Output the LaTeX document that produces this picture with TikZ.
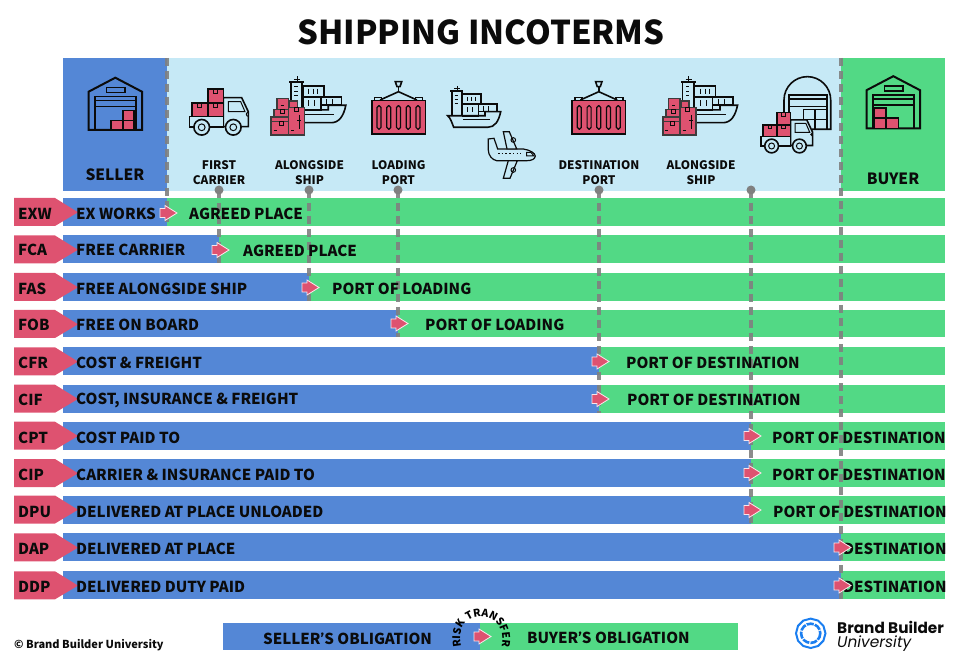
\documentclass[tikz,border=0pt]{standalone}
\usepackage{fontspec}
\setmainfont{Noto Sans CJK SC}
\newfontfamily\logofont{Poppins}
\newfontfamily\aposfont{Fira Sans}
\usetikzlibrary{decorations.text}
\definecolor{sellerBlue}{HTML}{5487D6}
\definecolor{buyerGreen}{HTML}{52D985}
\definecolor{skyBlue}{HTML}{C6E9F6}
\definecolor{crateRed}{HTML}{DE5270}
\definecolor{inkBlack}{HTML}{0B0B0B}
\definecolor{logoBlue}{HTML}{1A7EF0}
\tikzset{
  sellerbar/.style={fill=sellerBlue},
  buyerbar/.style={fill=buyerGreen},
  icon/.style={draw=inkBlack, line width=1.6pt, line join=miter},
  thinicon/.style={draw=inkBlack, line width=1pt},
  codetext/.style={anchor=west, yshift=-0.7pt, font=\fontsize{15.1}{16}\selectfont\bfseries, text=inkBlack, inner sep=0pt},
  rowtext/.style={anchor=west, yshift=-0.7pt, font=\fontsize{15.1}{16}\selectfont\bfseries, text=inkBlack, inner sep=0pt},
  stoptext/.style={align=center, yshift=-0.8pt, font=\fontsize{11.8}{15}\selectfont\bfseries, text=inkBlack, inner sep=0pt},
  partytext/.style={yshift=-0.7pt, font=\fontsize{15.5}{16}\selectfont\bfseries, text=inkBlack, inner sep=0pt},
  riskline/.style={draw=black!50, opacity=0.9, line width=3.2pt, dash pattern=on 8pt off 5pt},
  riskdot/.style={circle, fill=black!50, inner sep=0pt, minimum size=9pt},
  riskarrow/.pic={
    \draw[fill=crateRed, draw=white!85!crateRed, line width=0.8pt] (-7,-4.5) -- (-2,-4.5) -- (-2,-7.5) -- (10,0) -- (-2,7.5) -- (-2,4.5) -- (-7,4.5) -- cycle;
  },
  codetag/.pic={
    \fill[crateRed] (0,0) -- (41,0) -- (64,14.3) -- (41,28) -- (0,28) -- cycle;
  },
  warehouse/.pic={
    \draw[icon, line width=2pt] (-26.7,0) -- (-26.7,-38.3) -- (0,-52.3) -- (26.7,-38.3) -- (26.7,0) -- cycle;
    \draw[icon] (-20.5,0) -- (-20.5,-33.3) -- (20.5,-33.3) -- (20.5,0);
    \draw[icon] (-20.5,-29.3) -- (20.5,-29.3);
    \draw[icon] (-20.5,-23.3) -- (20.5,-23.3);
    \draw[icon] (-9,-42.3) rectangle (9.7,-37.3);
  },
  truck/.pic={
    \draw[icon, fill=skyBlue] (34,-29.6) -- (52.4,-29.6) -- (59,-15.6) -- (59,-0.6) -- (34,-0.6) -- cycle;
    \draw[thinicon] (39,-25.6) -- (51.4,-25.6) -- (55.7,-15.6) -- (39,-15.6) -- cycle;
    \draw[thinicon] (59,-11) arc (90:270:2);
    \draw[icon, fill=skyBlue] (0,-10.6) rectangle (34,0);
    \draw[icon, fill=crateRed] (2.4,-24) rectangle (18.4,-10.6);
    \draw[icon, fill=crateRed] (18.4,-24) rectangle (34,-10.6);
    \draw[icon, fill=crateRed] (18.4,-38) rectangle (34,-24);
    \draw[thinicon] (8.5,-24) rectangle (12.5,-19.5);
    \draw[thinicon] (24,-24) rectangle (28,-19.5);
    \draw[thinicon] (24,-38) rectangle (28,-33.5);
    \draw[icon, fill=skyBlue] (12.4,0) circle (7.8);
    \draw[thinicon] (12.4,0) circle (3.4);
    \draw[icon, fill=skyBlue] (44,0) circle (7.8);
    \draw[thinicon] (44,0) circle (3.4);
  },
  freighter/.pic={
    \draw[icon] (0,-11.5) -- (37.3,-11.5) -- (37.3,-15.6) -- (53,-15.6) .. controls (51,-6) and (47,0) .. (40,0) -- (6,0) .. controls (4,-5) and (3,-9) .. (0,-11.5) -- cycle;
    \draw[thinicon] (15.6,-7.3) -- (42.3,-7.3);
    \draw[icon] (4,-11.5) -- (4,-36.3) -- (14,-36.3) -- (14,-11.5);
    \draw[icon] (2.5,-36.3) -- (15.5,-36.3);
    \draw[thinicon] (6.6,-39) -- (12.3,-39);
    \draw[thinicon] (9.4,-41.3) -- (9.4,-36.3);
    \draw[thinicon] (7,-32) -- (10,-32);
    \draw[thinicon] (7,-28) -- (10,-28);
    \draw[thinicon] (7,-24) -- (10,-24);
    \draw[icon] (14.6,-33) rectangle (33.3,-23);
    \draw[icon] (14.6,-23) rectangle (30.6,-11.5);
    \draw[icon] (30.6,-23) rectangle (49,-15.6);
    \draw[thinicon] (20,-30.5) -- (20,-26);
    \draw[thinicon] (24,-30.5) -- (24,-26);
    \draw[thinicon] (28,-30.5) -- (28,-26);
    \draw[thinicon] (20,-20) -- (20,-15);
    \draw[thinicon] (25,-20) -- (25,-15);
    \draw[thinicon] (36,-21) -- (36,-16.5);
    \draw[thinicon] (41,-21) -- (41,-16.5);
  },
  cratestack/.pic={
    \draw[icon, draw=inkBlack!80, fill=crateRed] (0,-18) rectangle (17.3,-4.5);
    \draw[icon, draw=inkBlack!80, fill=crateRed] (3,-25.5) rectangle (17.3,-18);
    \draw[icon, draw=inkBlack!80, fill=crateRed] (5.7,-36.5) rectangle (17.3,-25.5);
    \draw[icon, draw=inkBlack!80, fill=crateRed] (18,-33.7) rectangle (26.3,-27.5);
    \draw[icon, draw=inkBlack!80, fill=crateRed] (17.3,-27.5) rectangle (33.3,0);
    \draw[icon, draw=inkBlack!80, fill=crateRed] (0,-13.5) rectangle (17.3,0);
    \draw[thinicon] (8,-13.5) rectangle (12,-9);
    \draw[thinicon] (9,-25) rectangle (13,-21);
    \draw[thinicon] (9.5,-29) -- (12.5,-29);
    \draw[thinicon] (23,-27.5) rectangle (27,-23.5);
    \draw[thinicon] (28.3,-20) -- (28.3,-6);
    \draw[thinicon] (26.3,-14) -- (30.3,-14);
    \draw[thinicon] (20,-4) -- (23,-4);
    \draw[thinicon] (2.5,-4) -- (5.5,-4);
  },
  cargoload/.pic={
    \draw[icon, fill=crateRed] (-26.8,0) rectangle (26.8,33.3);
    \draw[icon] (-24,-3) rectangle (-17,0);
    \draw[icon] (17,-3) rectangle (24,0);
    \draw[icon] (-18.4,-0.7) -- (0,-9) -- (18.4,-0.7);
    \draw[icon] (0,-9) -- (0,-14);
    \draw[icon] (-3.2,-19) -- (3.2,-19) -- (1.5,-14) -- (-1.5,-14) -- cycle;
    \draw[thinicon, line width=1.2pt, rounded corners=1.8pt] (-21.5,5) rectangle (-17.5,28.5);
    \draw[thinicon, line width=1.2pt, rounded corners=1.8pt] (-11.7,5) rectangle (-7.7,28.5);
    \draw[thinicon, line width=1.2pt, rounded corners=1.8pt] (-2,5) rectangle (2,28.5);
    \draw[thinicon, line width=1.2pt, rounded corners=1.8pt] (7.7,5) rectangle (11.7,28.5);
    \draw[thinicon, line width=1.2pt, rounded corners=1.8pt] (17.5,5) rectangle (21.5,28.5);
  },
  airliner/.pic={
    \draw[icon, line width=1.2pt, fill=skyBlue] (488.3,139) -- (494,138.3) -- (497.7,149) -- (523.3,149) .. controls (530,150) and (535,153) .. (535.3,156) .. controls (535,159) and (532,160.7) .. (526.7,160.7) -- (496.7,160.7) .. controls (492,160) and (488.3,155) .. (488.3,150) -- cycle;
    \draw[icon, line width=1.2pt, fill=skyBlue] (503.3,131.7) -- (509.3,131.7) -- (516.7,148.9) -- (507,148.9) -- cycle;
    \draw[icon, line width=1.2pt, fill=skyBlue] (508.3,160.7) -- (517.3,160.7) -- (510,178.3) -- (503.3,178.3) -- cycle;
    \draw[thinicon] (513.3,140) circle (2.3);
    \draw[thinicon] (513.3,170) circle (2.3);
    \draw[thinicon, dash pattern=on 1.5pt off 2.2pt] (498,153.3) -- (521,153.3);
    \draw[thinicon] (526.5,152.5) -- (531,152.5) -- (534,156) -- (526.5,156) -- cycle;
  }
}
\begin{document}
\begin{tikzpicture}[x=1pt, y=-1pt]
\useasboundingbox (0,0) rectangle (962,663);
\node (title) [font=\fontsize{32.8}{34}\selectfont\bfseries, text=inkBlack, inner sep=0pt] at (481,32) {SHIPPING INCOTERMS};

% Header panels
\fill[skyBlue] (167,58) rectangle (841,191);
\fill[sellerBlue] (63,58) rectangle (167,191);
\fill[buyerGreen] (841,58) rectangle (945,191);

% Header icons
\pic at (115.3,130) {warehouse};
\draw[icon, fill=crateRed] (111,120.7) rectangle (122.7,130);
\draw[icon, fill=crateRed] (122.7,120.7) rectangle (134,130);
\draw[icon, fill=crateRed] (122.7,110.7) rectangle (134,120.7);
\pic at (893.3,128.5) {warehouse};
\draw[icon, fill=crateRed] (874.3,118.3) rectangle (886,128.5);
\draw[icon, fill=crateRed] (886,118.3) rectangle (898.3,128.5);
\draw[icon, fill=crateRed] (874.3,108.3) rectangle (886,118.3);
\pic at (189.3,127.3) {truck};
\pic[scale=1.12] at (286.5,122.7) {freighter};
\pic at (271,135) {cratestack};
\pic at (398.5,100.7) {cargoload};
\pic at (447.7,127.3) {freighter};
\pic at (0,0) {airliner};
\pic at (598.8,100.7) {cargoload};
\pic[scale=1.12] at (678.2,122.7) {freighter};
\pic at (662.7,135) {cratestack};

% Hangar behind the last truck
\draw[icon] (784,112) -- (784,100) arc (180:360:23.35) -- (830.7,129.3) -- (812,129.3);
\draw[icon] (789,112) -- (789,95) -- (826.7,95) -- (826.7,129.3);
\draw[icon] (789,99.3) -- (826.7,99.3);
\draw[icon] (789,106.7) -- (826.7,106.7);
\draw[thinicon, line width=1.3pt] (803.3,109.3) rectangle (815,119.3);
\draw[thinicon, line width=1.3pt] (815,109.3) rectangle (826.7,119.3);
\draw[thinicon, line width=1.3pt] (815,119.3) rectangle (826.7,129.3);
\pic[scale=0.88] at (760.7,146) {truck};

% Header labels
\node (seller) [partytext] at (115,174) {SELLER};
\node (buyer) [partytext] at (893,178) {BUYER};
\node (firstcarrier) [stoptext] at (219,172) {FIRST\\CARRIER};
\node (shipA) [stoptext] at (309.5,172) {ALONGSIDE\\SHIP};
\node (loadport) [stoptext] at (398.5,172) {LOADING\\PORT};
\node (destport) [stoptext] at (599,172) {DESTINATION\\PORT};
\node (shipB) [stoptext] at (701,172) {ALONGSIDE\\SHIP};

% Seller and buyer bars
\fill[sellerbar] (63,198) rectangle (167,226);
\fill[buyerbar] (167,198) rectangle (945,226);
\fill[sellerbar] (63,235.5) rectangle (219,263.5);
\fill[buyerbar] (219,235.5) rectangle (945,263.5);
\fill[sellerbar] (63,273) rectangle (309,301);
\fill[buyerbar] (309,273) rectangle (945,301);
\fill[sellerbar] (63,310.3) rectangle (398,337);
\fill[buyerbar] (398,310.3) rectangle (945,337);
\fill[sellerbar] (63,347.3) rectangle (599,375.3);
\fill[buyerbar] (599,347.3) rectangle (945,375.3);
\fill[sellerbar] (63,384.7) rectangle (599,412.7);
\fill[buyerbar] (599,384.7) rectangle (945,412.7);
\fill[sellerbar] (63,421.7) rectangle (751,449.7);
\fill[buyerbar] (751,421.7) rectangle (945,449.7);
\fill[sellerbar] (63,459) rectangle (751,487);
\fill[buyerbar] (751,459) rectangle (945,487);
\fill[sellerbar] (63,495.5) rectangle (751,523.5);
\fill[buyerbar] (751,495.5) rectangle (945,523.5);
\fill[sellerbar] (63,533.3) rectangle (841,561.3);
\fill[buyerbar] (841,533.3) rectangle (945,561.3);
\fill[sellerbar] (63,571.3) rectangle (841,599);
\fill[buyerbar] (841,571.3) rectangle (945,599);

% Transfer points and their dashed lines
\node (dotcarrier) [riskdot] at (219,190) {};
\node (dotshipA) [riskdot] at (309,190) {};
\node (dotload) [riskdot] at (398,190) {};
\node (dotdest) [riskdot] at (599,190) {};
\node (dotshipB) [riskdot] at (751,190) {};
\coordinate (topseller) at (167,58);
\coordinate (topbuyer) at (841,58);
\coordinate (endseller) at (167,226);
\coordinate (endcarrier) at (219,263.5);
\coordinate (endshipA) at (309,301);
\coordinate (endload) at (398,337);
\coordinate (enddest) at (599,412.7);
\coordinate (endshipB) at (751,523.5);
\coordinate (endbuyer) at (841,599);
\draw[riskline] (topseller) -- (endseller);
\draw[riskline] (dotcarrier.center) -- (endcarrier);
\draw[riskline] (dotshipA.center) -- (endshipA);
\draw[riskline] (dotload.center) -- (endload);
\draw[riskline] (dotdest.center) -- (enddest);
\draw[riskline] (dotshipB.center) -- (endshipB);
\draw[riskline] (topbuyer) -- (endbuyer);

% Code tags
\pic at (14,198) {codetag};
\pic at (14,235.5) {codetag};
\pic at (14,273) {codetag};
\pic at (14,310) {codetag};
\pic at (14,347.3) {codetag};
\pic at (14,384.7) {codetag};
\pic at (14,421.7) {codetag};
\pic at (14,459) {codetag};
\pic at (14,495.5) {codetag};
\pic at (14,533.3) {codetag};
\pic at (14,571.3) {codetag};

% Row texts
\node (exw) [codetext] at (18,213) {EXW};
\node (exwname) [rowtext] at (76,213) {EX WORKS};
\node (exwplace) [rowtext] at (189,213.5) {AGREED PLACE};
\node (fca) [codetext] at (18,249.5) {FCA};
\node (fcaname) [rowtext] at (76,249.5) {FREE CARRIER};
\node (fcaplace) [rowtext] at (243,250) {AGREED PLACE};
\node (fas) [codetext] at (18,288) {FAS};
\node (fasname) [rowtext] at (76,288) {FREE ALONGSIDE SHIP};
\node (fasplace) [rowtext] at (332,288) {PORT OF LOADING};
\node (fob) [codetext] at (18,324) {FOB};
\node (fobname) [rowtext] at (76,324) {FREE ON BOARD};
\node (fobplace) [rowtext] at (425,324) {PORT OF LOADING};
\node (cfr) [codetext] at (18,362) {CFR};
\node (cfrname) [rowtext] at (76,362) {COST \& FREIGHT};
\node (cfrplace) [rowtext] at (626,362) {PORT OF DESTINATION};
\node (cif) [codetext] at (18,399.5) {CIF};
\node (cifname) [rowtext] at (76,399.5) {COST, INSURANCE \& FREIGHT};
\node (cifplace) [rowtext] at (627,399.5) {PORT OF DESTINATION};
\node (cpt) [codetext] at (18,437) {CPT};
\node (cptname) [rowtext] at (76,437) {COST PAID TO};
\node (cptplace) [rowtext] at (772,437) {PORT OF DESTINATION};
\node (cip) [codetext] at (18,474) {CIP};
\node (cipname) [rowtext] at (76,474) {CARRIER \& INSURANCE PAID TO};
\node (cipplace) [rowtext] at (772,474) {PORT OF DESTINATION};
\node (dpu) [codetext] at (18,511) {DPU};
\node (dpuname) [rowtext] at (76,511) {DELIVERED AT PLACE UNLOADED};
\node (dpuplace) [rowtext] at (773,511) {PORT OF DESTINATION};
\node (dap) [codetext] at (18,548.5) {DAP};
\node (dapname) [rowtext] at (76,548.5) {DELIVERED AT PLACE};
\node (dapplace) [rowtext] at (843,548.5) {DESTINATION};
\node (ddp) [codetext] at (18,586.5) {DDP};
\node (ddpname) [rowtext] at (76,586.5) {DELIVERED DUTY PAID};
\node (ddpplace) [rowtext] at (843,586.5) {DESTINATION};

% Risk arrows
\pic at (167,213) {riskarrow};
\pic at (219,250) {riskarrow};
\pic at (309,287.5) {riskarrow};
\pic at (398,323.5) {riskarrow};
\pic at (599,361.5) {riskarrow};
\pic at (599,399) {riskarrow};
\pic at (751,436) {riskarrow};
\pic at (751,473) {riskarrow};
\pic at (751,510) {riskarrow};
\pic at (841,547.5) {riskarrow};
\pic at (841,585.5) {riskarrow};

% Legend
\fill[sellerbar] (223,623.3) rectangle (480,650);
\fill[buyerbar] (480,623.3) rectangle (738,650);
\node (sellerkey) [rowtext] at (263,638.5) {SELLER{\aposfont’}S OBLIGATION};
\node (buyerkey) [rowtext] at (527,637) {BUYER{\aposfont’}S OBLIGATION};
\pic at (481,636.5) {riskarrow};
\path[decorate, decoration={text along path, text align=center, text={|\fontsize{10.5}{11}\selectfont\bfseries|RISK TRANSFER}}] (462,649) .. controls (449,606) and (513,606) .. (501,649);

% Footer
\node (copyright) [anchor=west, font=\fontsize{11}{12}\selectfont\bfseries, text=inkBlack, inner sep=0pt] at (14,645.5) {© Brand Builder University};
\draw[logoBlue, line width=2pt] (825.5,633.3) -- (823.4,640.7) -- (818.1,646) -- (810.7,648) -- (803.3,646) -- (798,640.7) -- (796,633.3) -- (798,625.9) -- (803.3,620.6) -- (810.7,618.6) -- (818.1,620.6) -- (823.4,625.9) -- cycle;
\draw[logoBlue, line width=2.6pt, dash pattern=on 7pt off 1.2pt] (810.7,633.3) circle (9.6);
\node (brandname) [anchor=west, font=\logofont\fontsize{15.3}{16}\selectfont\bfseries, text=inkBlack, inner sep=0pt] at (837,627.5) {Brand Builder};
\node (brandschool) [anchor=west, font=\logofont\fontsize{15.4}{16}\selectfont\itshape, text=inkBlack, inner sep=0pt] at (837,643.5) {University};
\end{tikzpicture}
\end{document}
